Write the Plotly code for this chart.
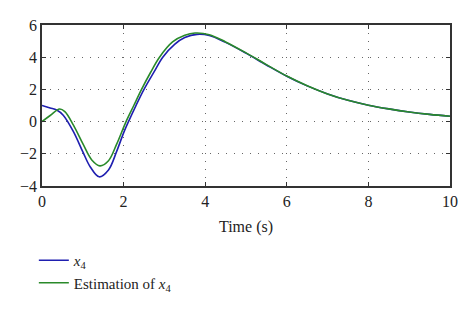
import plotly.graph_objects as go

# time samples (s)
t_true = [0, 0.2, 0.36, 0.52, 0.77, 1.01, 1.18, 1.4, 1.63, 1.83, 2.0, 2.12, 2.3, 2.5, 2.75, 2.96, 3.25, 3.5, 3.8, 4.1, 4.5, 5.0, 5.5, 6.0, 6.5, 7.0, 7.5, 8.0, 8.5, 9.0, 9.5, 10.0]
x4_true = [1.0, 0.85, 0.72, 0.4, -0.62, -1.93, -2.8, -3.43, -3.0, -1.85, -0.7, 0.0, 0.98, 2.0, 3.1, 4.0, 4.8, 5.22, 5.42, 5.35, 4.92, 4.25, 3.52, 2.82, 2.22, 1.72, 1.32, 1.02, 0.79, 0.6, 0.45, 0.33]

t_est = [0, 0.2, 0.43, 0.56, 0.77, 1.01, 1.22, 1.42, 1.63, 1.83, 2.06, 2.25, 2.44, 2.66, 2.88, 3.2, 3.5, 3.75, 4.1, 4.5, 5.0, 5.5, 6.0, 6.5, 7.0, 7.5, 8.0, 8.5, 9.0, 9.5, 10.0]
x4_est = [0.0, 0.38, 0.78, 0.62, -0.22, -1.42, -2.38, -2.75, -2.43, -1.4, 0.0, 1.0, 2.0, 3.05, 4.0, 4.95, 5.36, 5.5, 5.4, 4.95, 4.27, 3.54, 2.83, 2.23, 1.72, 1.32, 1.02, 0.79, 0.6, 0.45, 0.33]

x_ticks = [0, 2, 4, 6, 8, 10]
y_ticks = [-4, -2, 0, 2, 4, 6]

FONT = "Liberation Serif"
TXT = "#222222"

fig = go.Figure()
fig.add_trace(go.Scatter(x=t_true, y=x4_true, mode="lines",
                         line=dict(color="#1f1fb0", width=1.6, shape="spline", smoothing=1.0),
                         name="<i>x</i><sub>4</sub>"))
fig.add_trace(go.Scatter(x=t_est, y=x4_est, mode="lines",
                         line=dict(color="#2a8a2a", width=1.6, shape="spline", smoothing=1.0),
                         name="Estimation of <i>x</i><sub>4</sub>"))

axis_common = dict(showline=True, linecolor="#333333", linewidth=1.5, mirror="ticks",
                   ticks="inside", ticklen=4, tickcolor="#333333",
                   showgrid=True, gridcolor="#666666", griddash="1px,7px", gridwidth=1.2,
                   zeroline=False, tickfont=dict(family=FONT, size=16, color=TXT))

fig.update_xaxes(range=[0, 10], tickvals=x_ticks,
                 title=dict(text="Time (s)", font=dict(family=FONT, size=16, color=TXT), standoff=12),
                 **axis_common)
fig.update_yaxes(range=[-4, 6], tickvals=y_ticks, **axis_common)

fig.update_layout(width=474, height=311, margin=dict(l=42, r=24, t=25, b=120),
                  paper_bgcolor="white", plot_bgcolor="white",
                  showlegend=True,
                  legend=dict(x=-0.02, y=-0.36, xanchor="left", yanchor="top", orientation="v",
                              font=dict(family=FONT, size=15, color=TXT), bgcolor="rgba(0,0,0,0)",
                              tracegroupgap=0))

fig.write_html("out.html")
